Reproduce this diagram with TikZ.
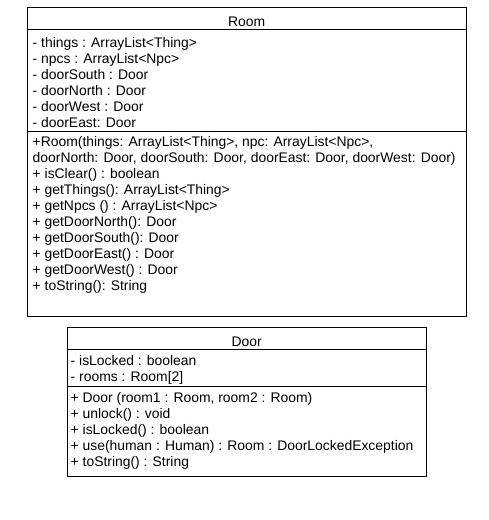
\documentclass[tikz,border=0pt]{standalone}
\usepackage{fontspec}
\setmainfont{Liberation Sans}
\usepackage{tikz}
\usetikzlibrary{positioning}

\newcommand{\firstline}{\rule{0pt}{12pt}}

\begin{document}
\begin{tikzpicture}[
            x=1pt, y=-1pt,
            classbox/.style={draw, line width=0.8pt},
            classname/.style={anchor=base, font=\fontsize{13.9}{16}\selectfont, inner sep=0pt},
            members/.style={anchor=north west, align=left, inner sep=0pt, font=\fontsize{13.9}{16}\selectfont},
        ]
            \useasboundingbox (0,0) rectangle (489,520);

            % Room class
            \draw[classbox] (27,7.5) rectangle (466.5,316.5);
            \draw[classbox] (27,29.5) -- (466.5,29.5);
            \draw[classbox] (27,131) -- (466.5,131);
            \node[classname] (roomName) at (246.75,26) {Room};
            \node[members] (roomAttrs) at (32.5,34.8) {\firstline- things : ArrayList<Thing>\\- npcs : ArrayList<Npc>\\- doorSouth : Door\\- doorNorth : Door\\- doorWest : Door\\- doorEast: Door};
            \node[members] (roomOps) at (32.5,134.5) {\firstline+Room(things: ArrayList<Thing>, npc: ArrayList<Npc>,\\doorNorth: Door, doorSouth: Door, doorEast: Door, doorWest: Door)\\+ isClear() : boolean\\+ getThings(): ArrayList<Thing>\\+ getNpcs () : ArrayList<Npc>\\+ getDoorNorth(): Door\\+ getDoorSouth(): Door\\+ getDoorEast() : Door\\+ getDoorWest() : Door\\+ toString(): String};

            % Door class
            \draw[classbox] (67.5,327.5) rectangle (426,476.5);
            \draw[classbox] (67.5,349.5) -- (426,349.5);
            \draw[classbox] (67.5,386.5) -- (426,386.5);
            \node[classname] (doorName) at (246.75,346) {Door};
            \node[members] (doorAttrs) at (70.5,353.5) {\firstline- isLocked : boolean\\- rooms : Room[2]};
            \node[members] (doorOps) at (70.5,390.5) {\firstline+ Door (room1 : Room, room2 : Room)\\+ unlock() : void\\+ isLocked() : boolean\\+ use(human : Human) : Room : DoorLockedException\\+ toString() : String};

        \end{tikzpicture}
\end{document}
